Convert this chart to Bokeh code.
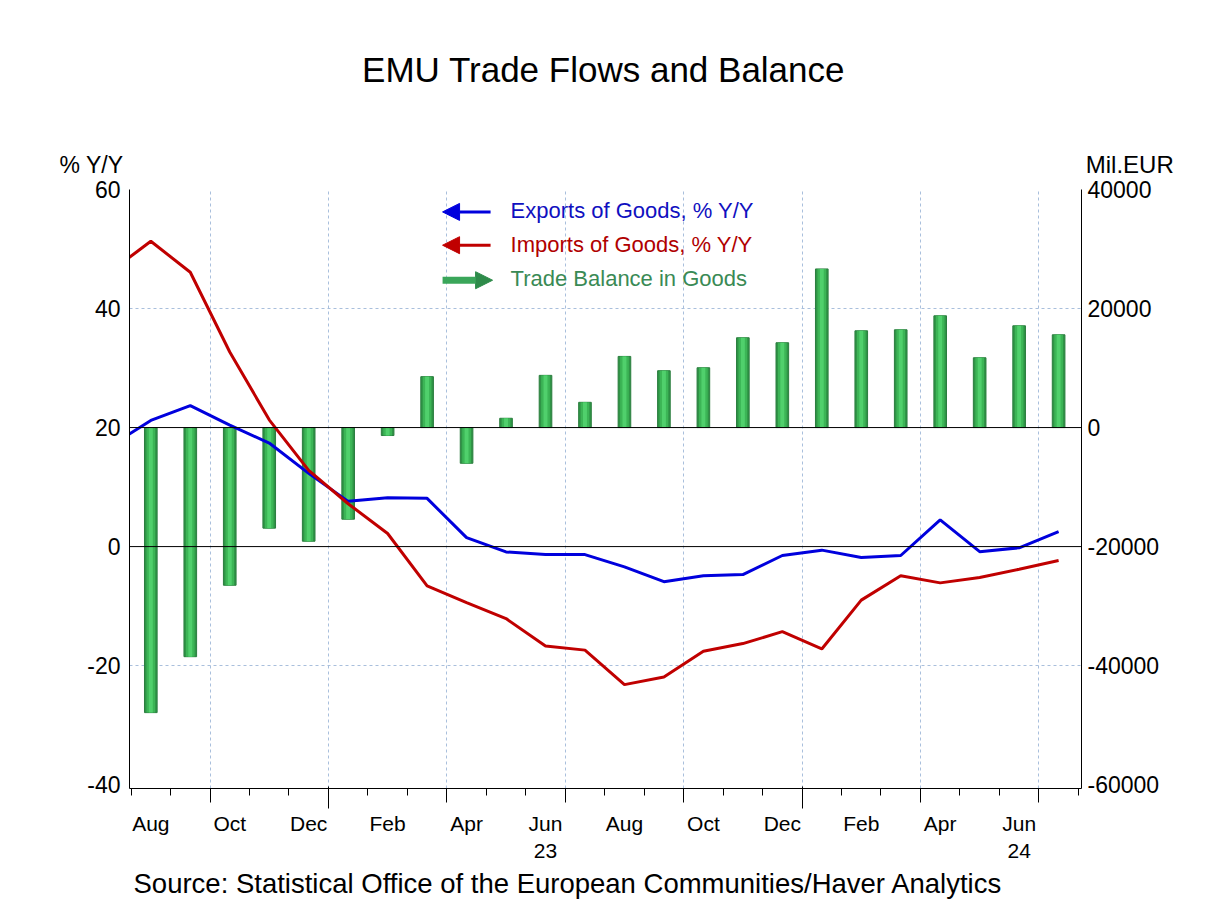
from bokeh.plotting import figure
from bokeh.models import (LinearAxis, Range1d, FixedTicker, Grid, Span, Label,
                          Arrow, NormalHead, ColumnDataSource)
from bokeh.embed import file_html
from bokeh.resources import INLINE

# ---------------- data ----------------
# months Jul-2022 .. Jul-2024 (line series), bars Aug-2022 .. Jul-2024
line_months = ["Jul 22", "Aug 22", "Sep 22", "Oct 22", "Nov 22", "Dec 22", "Jan 23", "Feb 23",
               "Mar 23", "Apr 23", "May 23", "Jun 23", "Jul 23", "Aug 23", "Sep 23", "Oct 23",
               "Nov 23", "Dec 23", "Jan 24", "Feb 24", "Mar 24", "Apr 24", "May 24", "Jun 24", "Jul 24"]
exports_yy = [17.0, 21.2, 23.7, 20.4, 17.4, 12.3, 7.6, 8.2, 8.1, 1.5, -0.9, -1.35, -1.35,
              -3.4, -5.9, -4.9, -4.7, -1.5, -0.6, -1.85, -1.5, 4.5, -0.85, -0.2, 2.5]
imports_yy = [46.3, 51.3, 46.1, 32.7, 21.3, 12.8, 7.2, 2.2, -6.6, -9.4, -12.1, -16.7, -17.4,
              -23.2, -21.9, -17.6, -16.3, -14.3, -17.2, -9.0, -4.9, -6.1, -5.2, -3.8, -2.35]
bar_months = line_months[1:]
trade_balance = [-47900, -38500, -26500, -16900, -19100, -15400, -1340, 8550, -6000, 1560,
                 8770, 4240, 11950, 9550, 10050, 15090, 14250, 26650, 16260, 16430, 18780,
                 11730, 17100, 15590]
tick_labels = ["Aug", "Oct", "Dec", "Feb", "Apr", "Jun\n23", "Aug", "Oct", "Dec", "Feb", "Apr", "Jun\n24"]
left_ticks = [-40, -20, 0, 20, 40, 60]
right_ticks = [-60000, -40000, -20000, 0, 20000, 40000]
title_text = "EMU Trade Flows and Balance"
left_caption = "% Y/Y"
right_caption = "Mil.EUR"
source_text = "Source:  Statistical Office of the European Communities/Haver Analytics"
legend_texts = ["Exports of Goods, % Y/Y", "Imports of Goods, % Y/Y", "Trade Balance in Goods"]

# month index positions (0 = start of Aug 2022)
x_line = [i - 0.5 for i in range(len(line_months))]
x_bar = [i + 0.5 for i in range(len(bar_months))]
label_pos = [i * 2 + 0.5 for i in range(len(tick_labels))]
month_bounds = list(range(0, 25))
year_bounds = [5, 17]
quarter_bounds = [2, 5, 8, 11, 14, 17, 20, 23]

FONT = "Liberation Sans"
Y0, Y1 = -40.65, 60
X0, X1 = -0.04, 24.08

p = figure(width=1208, height=906, output_backend="svg", toolbar_location=None,
           x_range=Range1d(X0, X1), y_range=Range1d(Y0, Y1),
           x_axis_location=None, y_axis_location=None,
           min_border_left=129, min_border_right=127, min_border_top=189, min_border_bottom=118)
p.outline_line_color = None
p.xgrid.visible = False
p.ygrid.visible = False
p.extra_y_ranges = {"bal": Range1d((Y0 - 20) * 1000, (Y1 - 20) * 1000)}

grid_color = "#a9bfdc"
p.add_layout(Grid(dimension=0, ticker=FixedTicker(ticks=quarter_bounds),
                  grid_line_color=grid_color, grid_line_dash="3 3", grid_line_width=1))
p.add_layout(Grid(dimension=1, ticker=FixedTicker(ticks=[60, 40, -20]),
                  grid_line_color=grid_color, grid_line_dash="3 3", grid_line_width=1))

ax_left = LinearAxis(ticker=FixedTicker(ticks=left_ticks), major_tick_out=0, major_tick_in=0,
                     minor_tick_out=0, major_label_standoff=9,
                     major_label_overrides={t: str(t) for t in left_ticks},
                     major_label_text_font=FONT, major_label_text_font_size="23px",
                     major_label_text_color="black", axis_line_color="black")
p.add_layout(ax_left, "left")
ax_right = LinearAxis(y_range_name="bal", ticker=FixedTicker(ticks=right_ticks),
                      major_tick_out=0, major_tick_in=0, minor_tick_out=0,
                      major_label_standoff=6, major_label_text_font=FONT,
                      major_label_overrides={t: str(t) for t in right_ticks},
                      major_label_text_font_size="23px", major_label_text_color="black",
                      axis_line_color="black")
p.add_layout(ax_right, "right")

# bottom axis: quarter (major) and month (minor) ticks
ax_ticks = LinearAxis(ticker=FixedTicker(ticks=quarter_bounds, minor_ticks=month_bounds),
                      major_tick_out=14, major_tick_in=0, minor_tick_out=7, minor_tick_in=0,
                      major_label_overrides={t: "" for t in quarter_bounds},
                      major_label_standoff=0, major_label_text_font_size="1px",
                      axis_line_color="black", major_tick_line_color="black",
                      minor_tick_line_color="black")
p.add_layout(ax_ticks, "below")
# labels axis; its minor ticks give the long year-boundary ticks
ax_lab = LinearAxis(ticker=FixedTicker(ticks=label_pos, minor_ticks=year_bounds),
                    major_tick_out=0, major_tick_in=0,
                    minor_tick_out=6, minor_tick_in=16, minor_tick_line_color="black",
                    axis_line_color=None, major_label_standoff=3,
                    major_label_overrides={pos: lab for pos, lab in zip(label_pos, tick_labels)},
                    major_label_text_font=FONT, major_label_text_font_size="21px",
                    major_label_text_color="black")
p.add_layout(ax_lab, "below")

p.add_layout(Span(location=0, dimension="width", line_color="black", line_width=1))
p.add_layout(Span(location=20, dimension="width", line_color="black", line_width=1))

bsrc = ColumnDataSource(dict(x=x_bar, v=trade_balance))
p.vbar(x="x", top="v", bottom=0, width=0.32, source=bsrc, y_range_name="bal",
       fill_color="#2f9446", line_color="#2a7d3e", line_width=1)
p.vbar(x="x", top="v", bottom=0, width=0.22, source=bsrc, y_range_name="bal",
       fill_color="#3cb556", line_color=None)
p.vbar(x="x", top="v", bottom=0, width=0.10, source=bsrc, y_range_name="bal",
       fill_color="#50d06c", line_color=None)

BLUE = "#0000dd"
RED = "#c00000"
p.line(x_line, exports_yy, line_color=BLUE, line_width=3)
p.line(x_line, imports_yy, line_color=RED, line_width=3)


def px2x(px):
    return (px - 129) / 39.46 + X0


def py2y(py):
    return (546.3 - py) / 5.95


def base(py, fs):
    # compensate the renderer's baseline placement (about 0.36 em low)
    return py2y(py - 0.36 * fs)


p.add_layout(Arrow(end=NormalHead(size=17, fill_color=BLUE, line_color=BLUE),
                   x_start=px2x(490), y_start=py2y(211.7), x_end=px2x(442), y_end=py2y(211.7),
                   line_color=BLUE, line_width=3))
p.add_layout(Arrow(end=NormalHead(size=17, fill_color=RED, line_color=RED),
                   x_start=px2x(490), y_start=py2y(245), x_end=px2x(442), y_end=py2y(245),
                   line_color=RED, line_width=3))
p.add_layout(Arrow(end=NormalHead(size=17, fill_color="#2e8b4a", line_color="#2e8b4a"),
                   x_start=px2x(442), y_start=py2y(280), x_end=px2x(492), y_end=py2y(280),
                   line_color="#3aa65a", line_width=7))
for txt, py, col in zip(legend_texts, [218.3, 252.5, 286.7], ["#1010c0", "#b00000", "#3a8a55"]):
    p.add_layout(Label(x=px2x(510), y=base(py, 22), text=txt, text_font=FONT,
                       text_font_size="22px", text_color=col, text_baseline="alphabetic",
                       text_align="left"))

# texts outside the plotting frame, placed in side panels (not clipped to the frame)
p.add_layout(Label(x=px2x(603), y=base(81.7, 35), text=title_text, text_font=FONT,
                   text_font_size="35px", text_color="black", text_align="center",
                   text_baseline="alphabetic"), "above")
p.add_layout(Label(x=px2x(123), y=base(173.3, 23), text=left_caption, text_font=FONT,
                   text_font_size="23px", text_color="black", text_align="right",
                   text_baseline="alphabetic"), "above")
p.add_layout(Label(x=px2x(1085), y=base(173.3, 24), text=right_caption, text_font=FONT,
                   text_font_size="24px", text_color="black", text_align="left",
                   text_baseline="alphabetic"), "above")
p.add_layout(Label(x=px2x(133), y=base(892.7, 27.5), text=source_text, text_font=FONT,
                   text_font_size="27.5px", text_color="black", text_align="left",
                   text_baseline="alphabetic"), "below")

open("out.html", "w").write(file_html(p, INLINE))
